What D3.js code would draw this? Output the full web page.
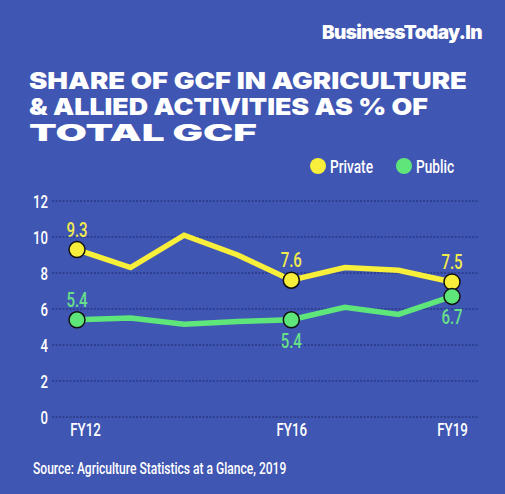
<!DOCTYPE html>
<html>
<head>
<meta charset="utf-8">
<script src="https://cdn.jsdelivr.net/npm/d3@7"></script>
<style>
  html, body { margin: 0; padding: 0; background: #3f56b3; }
  svg { display: block; }
  .cond { font-family: Roboto, "Noto Sans", sans-serif; font-weight: 500; }
  .heavy { font-family: Inter, Roboto, "Noto Sans", sans-serif; font-weight: 900; }
</style>
</head>
<body>
<div id="chart"></div>
<script>
// data
const years = ["FY12", "FY13", "FY14", "FY15", "FY16", "FY17", "FY18", "FY19"]
const privateVals = [9.3, 8.3, 10.1, 9.0, 7.6, 8.3, 8.15, 7.5]
const publicVals = [5.4, 5.5, 5.15, 5.3, 5.4, 6.1, 5.7, 6.7]
const markedIdx = [0, 4, 7]
const xTickLabels = ["FY12", "FY16", "FY19"]
const yTicks = [0, 2, 4, 6, 8, 10, 12]

const w = 505
const h = 494
const bg = "#3f56b3"
const yellow = "#f7ef3a"
const green = "#5fe67a"
const yellowTxt = "#f3ec4c"
const greenTxt = "#68e08a"

// no condensed face installed, so squeeze the glyphs
function condense(sel, f) {
    sel.each(function() {
        const len = this.getComputedTextLength()
        d3.select(this).attr("textLength", len * f).attr("lengthAdjust", "spacingAndGlyphs")
    })
}

const svg = d3.select("#chart").append("svg")
    .attr("width", w)
    .attr("height", h)

svg.append("rect").attr("width", w).attr("height", h).attr("fill", bg)

// header
svg.append("text")
    .attr("class", "heavy")
    .attr("x", 482).attr("y", 39)
    .attr("text-anchor", "end")
    .attr("font-size", 19)
    .attr("font-weight", 800)
    .attr("letter-spacing", -0.6)
    .attr("fill", "#fff")
    .text("BusinessToday.In")

const titleLines = [
    { t: "SHARE OF GCF IN AGRICULTURE", len: 438 },
    { t: "& ALLIED ACTIVITIES AS % OF", len: 399 },
    { t: "TOTAL GCF", len: 228 }
]
titleLines.forEach((l, i) => {
    svg.append("text")
        .attr("class", "heavy")
        .attr("x", 29).attr("y", 88.5 + i * 26)
        .attr("font-size", 23)
        .attr("textLength", l.len)
        .attr("lengthAdjust", "spacingAndGlyphs")
        .attr("fill", "#fff")
        .text(l.t)
})

// legend
const legend = [{ name: "Private", clr: yellow, x: 318 }, { name: "Public", clr: green, x: 404 }]
legend.forEach((d) => {
    svg.append("circle").attr("cx", d.x).attr("cy", 166).attr("r", 8).attr("fill", d.clr)
    svg.append("text")
        .attr("class", "cond")
        .attr("x", d.x + 12).attr("y", 172.5)
        .attr("font-size", 19)
        .attr("fill", "#fff")
        .text(d.name)
        .call(condense, 0.72)
})

// scales
const x = d3.scalePoint().domain(years).range([77, 452])
const y = d3.scaleLinear().domain([0, 12]).range([417, 201])

// gridlines
svg.append("g")
    .selectAll("line")
    .data(yTicks)
    .enter().append("line")
    .attr("x1", 52).attr("x2", 478)
    .attr("y1", (d) => y(d)).attr("y2", (d) => y(d))
    .attr("stroke", "#1e2b70")
    .attr("stroke-width", 1)
    .attr("stroke-dasharray", "2,1.5")

// y axis labels
const yAxis = svg.append("g")
    .attr("transform", "translate(48,0)")
    .call(d3.axisLeft(y).tickValues(yTicks).tickSize(0).tickPadding(0))
yAxis.select(".domain").remove()
yAxis.selectAll("text")
    .attr("class", "cond")
    .attr("font-size", 17.5)
    .attr("fill", "#fff")
    .attr("dy", "0.36em")
    .call(condense, 0.75)

// x axis labels
const xAxis = svg.append("g")
    .attr("transform", "translate(0,417)")
    .call(d3.axisBottom(x).tickValues(xTickLabels).tickSize(0).tickPadding(0))
xAxis.select(".domain").remove()
xAxis.selectAll("text")
    .attr("class", "cond")
    .attr("font-size", 18.5)
    .attr("fill", "#fff")
    .attr("dy", "1.0em")
    .attr("dx", (d) => d === "FY12" ? 8 : 0)
    .call(condense, 0.72)

// lines
const line = d3.line()
    .x((d, i) => x(years[i]))
    .y((d) => y(d))

const series = [
    { vals: privateVals, clr: yellow, txt: yellowTxt, above: [true, true, true] },
    { vals: publicVals, clr: green, txt: greenTxt, above: [true, false, false] }
]

series.forEach((s) => {
    svg.append("path")
        .datum(s.vals)
        .attr("d", line)
        .attr("fill", "none")
        .attr("stroke", s.clr)
        .attr("stroke-width", 5.5)
        .attr("stroke-linejoin", "miter")
})

series.forEach((s) => {
    svg.append("g")
        .selectAll("circle")
        .data(markedIdx)
        .enter().append("circle")
        .attr("cx", (i) => x(years[i]))
        .attr("cy", (i) => y(s.vals[i]))
        .attr("r", 8)
        .attr("fill", s.clr)
        .attr("stroke", "#111")
        .attr("stroke-width", 1.5)
})

series.forEach((s) => {
    svg.append("g")
        .selectAll("text")
        .data(markedIdx)
        .enter().append("text")
        .attr("class", "cond")
        .attr("x", (i) => x(years[i]))
        .attr("y", (i, k) => y(s.vals[i]) + (s.above[k] ? -13 : 28))
        .attr("text-anchor", "middle")
        .attr("font-size", 20)
        .attr("font-weight", "bold")
        .attr("fill", s.txt)
        .text((i) => d3.format(".1f")(s.vals[i]))
        .call(condense, 0.75)
})

// source
svg.append("text")
    .attr("class", "cond")
    .attr("x", 33).attr("y", 474)
    .attr("font-size", 16.5)
    .attr("fill", "#fff")
    .text("Source: Agriculture Statistics at a Glance, 2019")
    .call(condense, 0.73)
</script>
</body>
</html>
